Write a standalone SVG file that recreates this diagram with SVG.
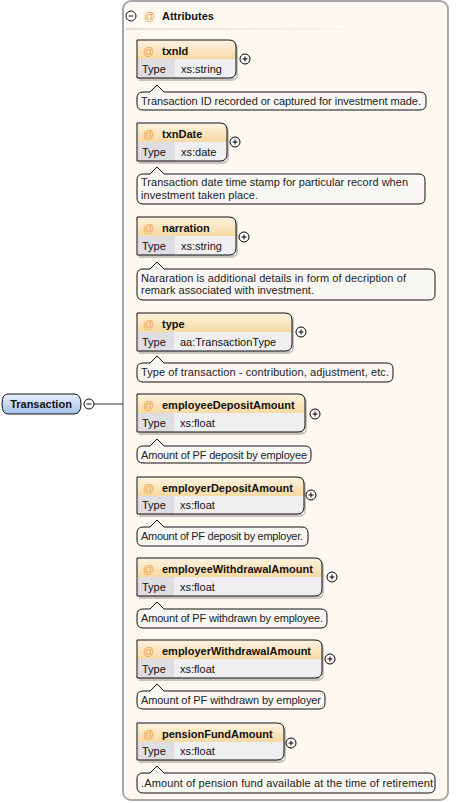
<svg xmlns="http://www.w3.org/2000/svg" width="467" height="803" viewBox="0 0 467 803">
<defs>
<linearGradient id="hdr" x1="0" y1="0" x2="0" y2="1">
<stop offset="0" stop-color="#fdf3e2"/>
<stop offset="1" stop-color="#f8d9a2"/>
</linearGradient>
<linearGradient id="blue" x1="0" y1="0" x2="0" y2="1">
<stop offset="0" stop-color="#e6eefb"/>
<stop offset="1" stop-color="#a6c1ea"/>
</linearGradient>
<linearGradient id="sep" x1="0" y1="0" x2="1" y2="0">
<stop offset="0" stop-color="#e4e0d8"/>
<stop offset="1" stop-color="#fdf9f1"/>
</linearGradient>
<symbol id="plus" overflow="visible">
<circle cx="0" cy="0" r="5" fill="#fff" stroke="#000" stroke-width="1"/>
<path d="M-2.5 0H2.5M0 -2.5V2.5" stroke="#000" stroke-width="1"/>
</symbol>
</defs>
<style>
.name{font-family:"Liberation Sans",Arial,sans-serif;font-size:11px;font-weight:bold;fill:#111}
.at{font-family:"Liberation Sans",Arial,sans-serif;font-size:11px;fill:#f0a040}
.lbl{font-family:"Liberation Sans",Arial,sans-serif;font-size:11px;fill:#111}
.desc{font-family:"Liberation Sans",Arial,sans-serif;font-size:11px;fill:#222}
.box{stroke:#111;stroke-width:1;fill:none}
.shadow{fill:#c8c4bc}
.callout{fill:#f9f7f3;stroke:#111;stroke-width:1}
.tcell{fill:#dedee2}
.vcell{fill:#efeff1}
</style>

<rect x="123" y="1" width="325" height="799" rx="8" fill="#fdf9f1" stroke="#a8a8a8" stroke-width="2"/>

<g id="connectors">
<line x1="94" y1="404" x2="123" y2="404" stroke="#333" stroke-width="1"/>
</g>

<g id="attributes-header">
<circle cx="131" cy="16" r="5" fill="#fff" stroke="#111"/>
<path d="M128.5 16H133.5" stroke="#111"/>
<text class="at" x="144" y="20">@</text>
<text class="name" x="162" y="20">Attributes</text>
<rect x="126" y="28" width="250" height="2" fill="url(#sep)"/>
</g>

<g id="transaction">
<path d="M8 394H74Q81 394 81 404Q81 414 74 414H8Q2 414 2 404Q2 394 8 394Z" fill="url(#blue)" stroke="#111"/>
<text class="name" x="41" y="408" text-anchor="middle">Transaction</text>
<circle cx="89" cy="404" r="5" fill="#fff" stroke="#111"/>
<path d="M86.5 404H91.5" stroke="#111"/>
</g>

<!-- txnId -->
<g id="txnId">
<path class="shadow" d="M139 42H231Q238 42 238 49V74Q238 81 231 81H139Z"/>
<rect x="137" y="40" width="99" height="19" fill="url(#hdr)"/>
<rect x="137" y="59" width="38" height="19" class="tcell"/>
<rect x="175" y="59" width="61" height="19" class="vcell"/>
<path class="box" d="M137 40H229Q236 40 236 47V71Q236 78 229 78H137Z"/>
<text class="at" x="143" y="55">@</text>
<text class="name" x="162" y="55">txnId</text>
<text class="lbl" x="142" y="73">Type</text>
<text class="lbl" x="181" y="73">xs:string</text>
<use href="#plus" x="245" y="59"/>
</g>
<g id="txnId-doc">
<path class="callout" d="M143 92H150L157 85L164 92H420Q426 92 426 98V104Q426 110 420 110H143Q137 110 137 104V98Q137 92 143 92Z"/>
<text class="desc" x="141" y="105" textLength="280">Transaction ID recorded or captured for investment made.</text>
</g>

<!-- txnDate -->
<g id="txnDate">
<path class="shadow" d="M139 125H222Q229 125 229 132V157Q229 164 222 164H139Z"/>
<rect x="137" y="123" width="90" height="19" fill="url(#hdr)"/>
<rect x="137" y="142" width="38" height="19" class="tcell"/>
<rect x="175" y="142" width="52" height="19" class="vcell"/>
<path class="box" d="M137 123H220Q227 123 227 130V154Q227 161 220 161H137Z"/>
<text class="at" x="143" y="138">@</text>
<text class="name" x="162" y="138">txnDate</text>
<text class="lbl" x="142" y="156">Type</text>
<text class="lbl" x="181" y="156">xs:date</text>
<use href="#plus" x="235" y="142"/>
</g>
<g id="txnDate-doc">
<path class="callout" d="M143 174H150L157 167L164 174H419Q425 174 425 180V198Q425 204 419 204H143Q137 204 137 198V180Q137 174 143 174Z"/>
<text class="desc" x="141" y="186" textLength="267">Transaction date time stamp for particular record when</text>
<text class="desc" x="141" y="199" textLength="117">investment taken place.</text>
</g>

<!-- narration -->
<g id="narration">
<path class="shadow" d="M139 219H231Q238 219 238 226V251Q238 258 231 258H139Z"/>
<rect x="137" y="217" width="99" height="19" fill="url(#hdr)"/>
<rect x="137" y="236" width="38" height="19" class="tcell"/>
<rect x="175" y="236" width="61" height="19" class="vcell"/>
<path class="box" d="M137 217H229Q236 217 236 224V248Q236 255 229 255H137Z"/>
<text class="at" x="143" y="232">@</text>
<text class="name" x="162" y="232">narration</text>
<text class="lbl" x="142" y="250">Type</text>
<text class="lbl" x="181" y="250">xs:string</text>
<use href="#plus" x="244" y="237"/>
</g>
<g id="narration-doc">
<path class="callout" d="M143 269H150L157 262L164 269H429Q435 269 435 275V294Q435 300 429 300H143Q137 300 137 294V275Q137 269 143 269Z"/>
<text class="desc" x="141" y="282" textLength="265">Nararation is additional details in form of decription of</text>
<text class="desc" x="141" y="294" textLength="173">remark associated with investment.</text>
</g>

<!-- type -->
<g id="type">
<path class="shadow" d="M139 315H287Q294 315 294 322V347Q294 354 287 354H139Z"/>
<rect x="137" y="313" width="155" height="19" fill="url(#hdr)"/>
<rect x="137" y="332" width="37" height="19" class="tcell"/>
<rect x="174" y="332" width="118" height="19" class="vcell"/>
<path class="box" d="M137 313H285Q292 313 292 320V344Q292 351 285 351H137Z"/>
<text class="at" x="143" y="328">@</text>
<text class="name" x="162" y="328">type</text>
<text class="lbl" x="142" y="346">Type</text>
<text class="lbl" x="180" y="346">aa:TransactionType</text>
<use href="#plus" x="301" y="332"/>
</g>
<g id="type-doc">
<path class="callout" d="M143 363H150L157 356L164 363H387Q393 363 393 369V376Q393 382 387 382H143Q137 382 137 376V369Q137 363 143 363Z"/>
<text class="desc" x="141" y="376" textLength="248">Type of transaction - contribution, adjustment, etc.</text>
</g>

<!-- employeeDepositAmount -->
<g id="employeeDepositAmount">
<path class="shadow" d="M139 396H300Q307 396 307 403V428Q307 435 300 435H139Z"/>
<rect x="137" y="394" width="168" height="19" fill="url(#hdr)"/>
<rect x="137" y="413" width="37" height="19" class="tcell"/>
<rect x="174" y="413" width="131" height="19" class="vcell"/>
<path class="box" d="M137 394H298Q305 394 305 401V425Q305 432 298 432H137Z"/>
<text class="at" x="143" y="409">@</text>
<text class="name" x="162" y="409">employeeDepositAmount</text>
<text class="lbl" x="142" y="427">Type</text>
<text class="lbl" x="180" y="427">xs:float</text>
<use href="#plus" x="315" y="414"/>
</g>
<g id="employeeDepositAmount-doc">
<path class="callout" d="M143 446H150L157 439L164 446H305Q311 446 311 452V457Q311 463 305 463H143Q137 463 137 457V452Q137 446 143 446Z"/>
<text class="desc" x="141" y="459" textLength="166">Amount of PF deposit by employee</text>
</g>

<!-- employerDepositAmount -->
<g id="employerDepositAmount">
<path class="shadow" d="M139 479H299Q306 479 306 486V510Q306 517 299 517H139Z"/>
<rect x="137" y="477" width="167" height="19" fill="url(#hdr)"/>
<rect x="137" y="496" width="37" height="18" class="tcell"/>
<rect x="174" y="496" width="130" height="18" class="vcell"/>
<path class="box" d="M137 477H297Q304 477 304 484V507Q304 514 297 514H137Z"/>
<text class="at" x="143" y="492">@</text>
<text class="name" x="162" y="492">employerDepositAmount</text>
<text class="lbl" x="142" y="509">Type</text>
<text class="lbl" x="180" y="509">xs:float</text>
<use href="#plus" x="311" y="495"/>
</g>
<g id="employerDepositAmount-doc">
<path class="callout" d="M143 527H150L157 520L164 527H302Q308 527 308 533V540Q308 546 302 546H143Q137 546 137 540V533Q137 527 143 527Z"/>
<text class="desc" x="141" y="540" textLength="162">Amount of PF deposit by employer.</text>
</g>

<!-- employeeWithdrawalAmount -->
<g id="employeeWithdrawalAmount">
<path class="shadow" d="M139 560H317Q324 560 324 567V592Q324 599 317 599H139Z"/>
<rect x="137" y="558" width="185" height="19" fill="url(#hdr)"/>
<rect x="137" y="577" width="37" height="19" class="tcell"/>
<rect x="174" y="577" width="148" height="19" class="vcell"/>
<path class="box" d="M137 558H315Q322 558 322 565V589Q322 596 315 596H137Z"/>
<text class="at" x="143" y="573">@</text>
<text class="name" x="162" y="573">employeeWithdrawalAmount</text>
<text class="lbl" x="142" y="591">Type</text>
<text class="lbl" x="180" y="591">xs:float</text>
<use href="#plus" x="332" y="577"/>
</g>
<g id="employeeWithdrawalAmount-doc">
<path class="callout" d="M143 609H150L157 602L164 609H321Q327 609 327 615V622Q327 628 321 628H143Q137 628 137 622V615Q137 609 143 609Z"/>
<text class="desc" x="141" y="622" textLength="182">Amount of PF withdrawn by employee.</text>
</g>

<!-- employerWithdrawalAmount -->
<g id="employerWithdrawalAmount">
<path class="shadow" d="M139 642H317Q324 642 324 649V674Q324 681 317 681H139Z"/>
<rect x="137" y="640" width="185" height="19" fill="url(#hdr)"/>
<rect x="137" y="659" width="37" height="19" class="tcell"/>
<rect x="174" y="659" width="148" height="19" class="vcell"/>
<path class="box" d="M137 640H315Q322 640 322 647V671Q322 678 315 678H137Z"/>
<text class="at" x="143" y="655">@</text>
<text class="name" x="162" y="655">employerWithdrawalAmount</text>
<text class="lbl" x="142" y="673">Type</text>
<text class="lbl" x="180" y="673">xs:float</text>
<use href="#plus" x="330" y="659"/>
</g>
<g id="employerWithdrawalAmount-doc">
<path class="callout" d="M143 691H150L157 684L164 691H319Q325 691 325 697V703Q325 709 319 709H143Q137 709 137 703V697Q137 691 143 691Z"/>
<text class="desc" x="141" y="704" textLength="180">Amount of PF withdrawn by employer</text>
</g>

<!-- pensionFundAmount -->
<g id="pensionFundAmount">
<path class="shadow" d="M139 725H279Q286 725 286 732V756Q286 763 279 763H139Z"/>
<rect x="137" y="723" width="147" height="19" fill="url(#hdr)"/>
<rect x="137" y="742" width="37" height="18" class="tcell"/>
<rect x="174" y="742" width="110" height="18" class="vcell"/>
<path class="box" d="M137 723H277Q284 723 284 730V753Q284 760 277 760H137Z"/>
<text class="at" x="143" y="738">@</text>
<text class="name" x="162" y="738">pensionFundAmount</text>
<text class="lbl" x="142" y="755">Type</text>
<text class="lbl" x="180" y="755">xs:float</text>
<use href="#plus" x="291" y="743"/>
</g>
<g id="pensionFundAmount-doc">
<path class="callout" d="M143 773H150L157 766L164 773H429Q435 773 435 779V787Q435 793 429 793H143Q137 793 137 787V779Q137 773 143 773Z"/>
<text class="desc" x="141" y="787" textLength="292">.Amount of pension fund available at the time of retirement</text>
</g>
</svg>
